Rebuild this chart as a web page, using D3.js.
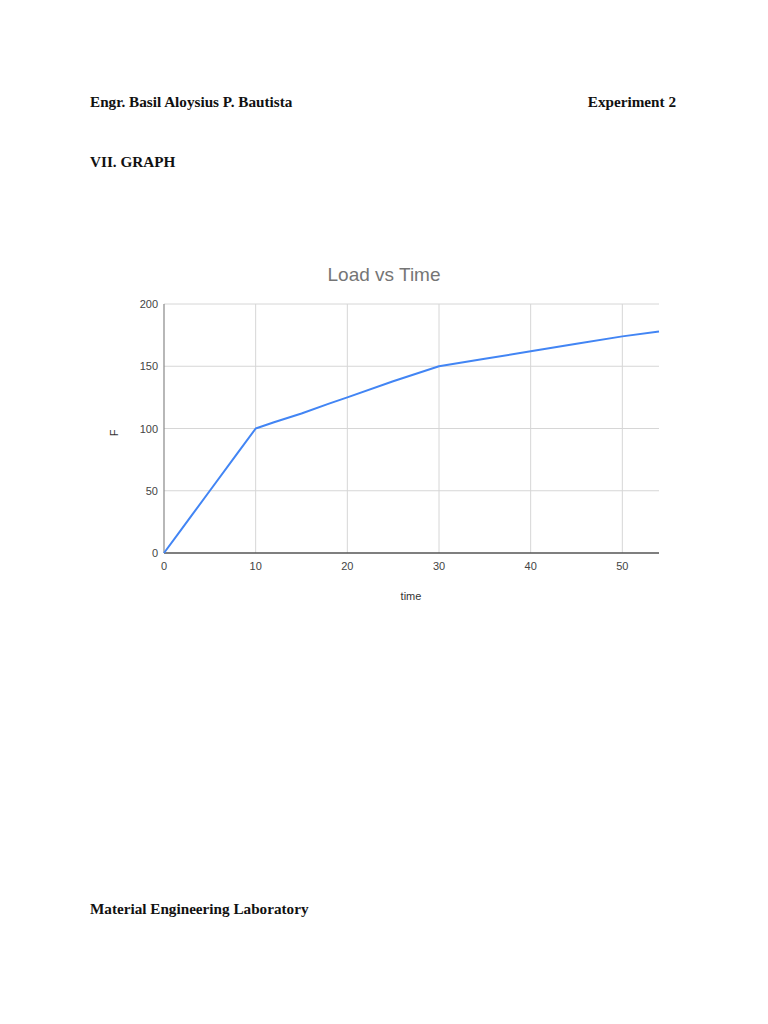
<!DOCTYPE html>
<html><head><meta charset="utf-8">
<script src="https://cdn.jsdelivr.net/npm/d3@7"></script>
<style>
body{margin:0;background:#fff;}
svg{display:block;}
</style></head>
<body>
<svg id="c" width="768" height="1024"></svg>
<script>
const timeVals = [0, 2, 3, 5, 8, 10, 12, 15, 18, 20, 25, 30, 35, 40, 45, 50, 54];
const loadVals = [0, 20, 30, 50, 80, 100, 105, 112, 120, 125, 138, 150, 156, 162, 168, 174, 178];
const xTicks = [0, 10, 20, 30, 40, 50];
const yTicks = [0, 50, 100, 150, 200];

const svg = d3.select("#c");
const serif = "'Liberation Serif','Times New Roman',serif";
const sans = "Arial,'Liberation Sans',sans-serif";

svg.append("text").attr("x", 90).attr("y", 107).attr("font-family", serif).attr("font-weight", "bold").attr("font-size", 15.2).attr("fill", "#111").text("Engr. Basil Aloysius P. Bautista");
svg.append("text").attr("x", 676).attr("y", 107).attr("text-anchor", "end").attr("font-family", serif).attr("font-weight", "bold").attr("font-size", 15.2).attr("fill", "#111").text("Experiment 2");
svg.append("text").attr("x", 90).attr("y", 167).attr("font-family", serif).attr("font-weight", "bold").attr("font-size", 15.2).attr("fill", "#111").text("VII. GRAPH");
svg.append("text").attr("x", 90).attr("y", 914).attr("font-family", serif).attr("font-weight", "bold").attr("font-size", 15.2).attr("fill", "#111").text("Material Engineering Laboratory");

const x = d3.scaleLinear().domain([0, 54]).range([164, 659]);
const y = d3.scaleLinear().domain([0, 200]).range([553, 304]);

svg.append("text").attr("x", 384).attr("y", 281).attr("text-anchor", "middle").attr("font-family", sans).attr("font-size", 19).attr("fill", "#757575").text("Load vs Time");

svg.append("g").selectAll("line").data(yTicks.filter(d => d > 0)).join("line")
  .attr("x1", x(0)).attr("x2", x(54)).attr("y1", d => y(d)).attr("y2", d => y(d))
  .attr("stroke", "#d6d6d6").attr("stroke-width", 1);
svg.append("g").selectAll("line").data(xTicks.filter(d => d > 0)).join("line")
  .attr("x1", d => x(d)).attr("x2", d => x(d)).attr("y1", y(0)).attr("y2", y(200))
  .attr("stroke", "#d6d6d6").attr("stroke-width", 1);

svg.append("line").attr("x1", x(0)).attr("x2", x(0)).attr("y1", y(0)).attr("y2", y(200)).attr("stroke", "#888").attr("stroke-width", 1.2);
svg.append("line").attr("x1", x(0)).attr("x2", x(54)).attr("y1", y(0)).attr("y2", y(0)).attr("stroke", "#555").attr("stroke-width", 1.4);

svg.append("g").selectAll("text").data(yTicks).join("text")
  .attr("x", x(0) - 6).attr("y", d => y(d) + 4).attr("text-anchor", "end")
  .attr("font-family", sans).attr("font-size", 11).attr("fill", "#444").text(d => d);
svg.append("g").selectAll("text").data(xTicks).join("text")
  .attr("x", d => x(d)).attr("y", y(0) + 17).attr("text-anchor", "middle")
  .attr("font-family", sans).attr("font-size", 11).attr("fill", "#444").text(d => d);

svg.append("text").attr("x", 411).attr("y", 600).attr("text-anchor", "middle").attr("font-family", sans).attr("font-size", 11).attr("fill", "#333").text("time");
svg.append("text").attr("transform", "translate(118,433) rotate(-90)").attr("text-anchor", "middle").attr("font-family", sans).attr("font-size", 11).attr("fill", "#333").text("F");

const data = timeVals.map((t, i) => [t, loadVals[i]]);
svg.append("path").datum(data)
  .attr("d", d3.line().x(d => x(d[0])).y(d => y(d[1])))
  .attr("fill", "none").attr("stroke", "#4285F4").attr("stroke-width", 2).attr("stroke-linejoin", "round");
</script>
</body></html>
